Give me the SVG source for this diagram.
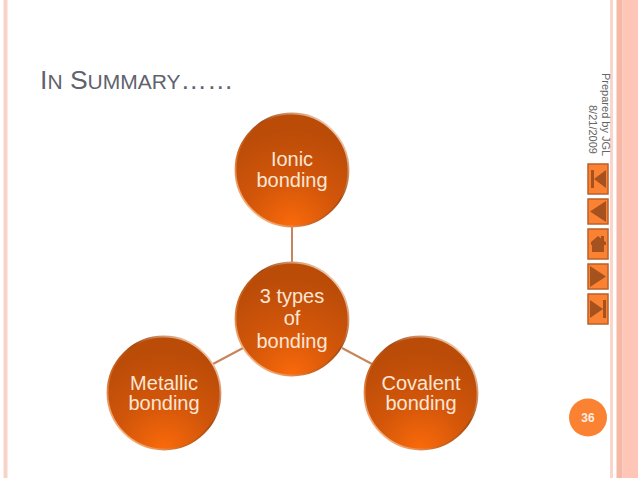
<svg xmlns="http://www.w3.org/2000/svg" width="638" height="478" viewBox="0 0 638 478">
<style>
.t{font-family:"Liberation Sans",Arial,sans-serif}
.n{font-size:20px;fill:#fbe6d6;text-anchor:middle}
.c{stroke:#c8845a;stroke-width:2;fill:none}
.b{fill:#fa8232;stroke:#b9602a;stroke-width:1.500}
.g{fill:#a5521f}
</style>
<defs>
<radialGradient id="o" cx="50%" cy="100%" r="85%">
<stop offset="0" stop-color="#fb6a0a"/><stop offset="0.5" stop-color="#d2560a"/><stop offset="1" stop-color="#bb4c08"/>
</radialGradient>
<linearGradient id="r" x1="0.1" y1="0.9" x2="0.9" y2="0.1">
<stop offset="0" stop-color="#fac090"/><stop offset="0.3" stop-color="#d2661f"/><stop offset="0.6" stop-color="#a84a12"/><stop offset="1" stop-color="#f6d6bc"/>
</linearGradient>
<g id="ball"><circle r="56.500" fill="url(#o)" stroke="url(#r)" stroke-width="1.800"/></g>
</defs>
<rect width="638" height="478" fill="#fff"/>
<g id="frame">
<rect x="3.500" y="0" width="4" height="478" fill="#f8d3c8"/>
<rect x="610" y="0" width="3" height="478" fill="#fcd5ca"/>
<rect x="616.500" y="0" width="6" height="478" fill="#f6b8a4"/>
<rect x="622.500" y="0" width="15.500" height="478" fill="#fec6b6"/>
</g>
<text id="title" class="t" x="40" y="89" font-size="26.500" fill="#5f636d">I<tspan font-size="21">N</tspan> S<tspan font-size="21">UMMARY</tspan>……</text>
<g id="connectors">
<path class="c" d="M292 226V263"/>
<path class="c" d="M243 348L213 364"/>
<path class="c" d="M342 348L372 364"/>
</g>
<g id="center"><use href="#ball" x="292" y="319"/><text class="t n" x="292" y="303">3 types</text><text class="t n" x="292" y="325">of</text><text class="t n" x="292" y="348">bonding</text></g>
<g id="ionic"><use href="#ball" x="292" y="170"/><text class="t n" x="292" y="166">Ionic</text><text class="t n" x="292" y="187">bonding</text></g>
<g id="metallic"><use href="#ball" x="164" y="393"/><text class="t n" x="164" y="390">Metallic</text><text class="t n" x="164" y="410">bonding</text></g>
<g id="covalent"><use href="#ball" x="421" y="393"/><text class="t n" x="421" y="390">Covalent</text><text class="t n" x="421" y="410">bonding</text></g>
<g id="footer-text" class="t" font-size="11" fill="#666">
<text transform="translate(602,73) rotate(90)">Prepared by JGL</text>
<text transform="translate(589,105) rotate(90)">8/21/2009</text>
</g>
<g id="btn-first"><rect class="b" x="588" y="164" width="20" height="30"/><path class="g" d="M591 170h3v18h-3zM594 179L606 170V188Z"/></g>
<g id="btn-prev"><rect class="b" x="588" y="199" width="20" height="25"/><path class="g" d="M590 211.500L606 201V222Z"/></g>
<g id="btn-home"><rect class="b" x="588" y="229" width="20" height="30"/><path class="g" d="M591 242L598 236L601 238.500V236H604V241L606 242V245H604V252H592V245H591Z"/></g>
<g id="btn-next"><rect class="b" x="588" y="264" width="20" height="25"/><path class="g" d="M590 266L606 276.500L590 287Z"/></g>
<g id="btn-last"><rect class="b" x="588" y="294" width="20" height="30"/><path class="g" d="M590 300L603 309L590 318ZM603 300h3v18h-3z"/></g>
<g id="page"><circle cx="588" cy="417.500" r="19" fill="#fa8232"/><text class="t" x="588" y="422" font-size="12" font-weight="bold" fill="#fdeee2" text-anchor="middle">36</text></g>
</svg>
